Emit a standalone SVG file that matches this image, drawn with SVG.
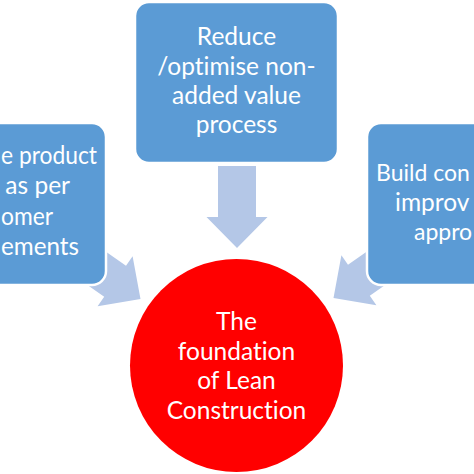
<svg xmlns="http://www.w3.org/2000/svg" width="474" height="474" viewBox="0 0 474 474">
  <style>
    .box { fill: #5B9BD5; stroke: #FFFFFF; stroke-width: 2.5; }
    .arrow { fill: #B4C7E7; }
    .hub { fill: #FF0000; }
    .lbl { font-family: Lato, "Liberation Sans", sans-serif; font-size: 24.5px; fill: #FFFFFF; font-variant-ligatures: none; font-feature-settings: "liga" 0, "dlig" 0, "clig" 0; }
    .edge { font-size: 23px; }
  </style>
  <defs>
    <polygon id="arrowShape" points="-19,-82 19,-82 19,-31 30.5,-31 0,0 -30.5,-31 -19,-31"/>
  </defs>
  <rect width="474" height="474" fill="#FFFFFF"/>
  <g id="connectors">
    <use href="#arrowShape" class="arrow" transform="translate(237,248)"/>
    <use href="#arrowShape" class="arrow" transform="translate(140.5,299) rotate(-55)"/>
    <use href="#arrowShape" class="arrow" transform="translate(333.5,298) rotate(55)"/>
  </g>
  <g id="node-top">
    <rect class="box" x="135" y="2" width="203" height="161" rx="14"/>
    <text class="lbl" text-anchor="middle" x="236.5" y="45">Reduce</text>
    <text class="lbl" text-anchor="middle" x="236.5" y="75">/optimise non-</text>
    <text class="lbl" text-anchor="middle" x="236.5" y="104">added value</text>
    <text class="lbl" text-anchor="middle" x="236.5" y="133">process</text>
  </g>
  <g id="node-left">
    <rect class="box" x="-97" y="123" width="203" height="162" rx="14"/>
    <text class="lbl" x="1" y="164" textLength="96" lengthAdjust="spacingAndGlyphs">e product</text>
    <text class="lbl" text-anchor="end" x="70" y="194">as per</text>
    <text class="lbl" x="1" y="225" textLength="52" lengthAdjust="spacingAndGlyphs">omer</text>
    <text class="lbl" x="1" y="255" textLength="78" lengthAdjust="spacingAndGlyphs">ements</text>
  </g>
  <g id="node-right">
    <rect class="box" x="367" y="123" width="203" height="162" rx="14"/>
    <text class="lbl edge" x="376" y="181">Build con</text>
    <text class="lbl" x="395" y="211">improv</text>
    <text class="lbl edge" x="414" y="240">appro</text>
  </g>
  <g id="node-center">
    <circle class="hub" cx="236.5" cy="365.5" r="106.5"/>
    <text class="lbl" text-anchor="middle" x="236.5" y="330">The</text>
    <text class="lbl" text-anchor="middle" x="236.5" y="359.5">foundation</text>
    <text class="lbl" text-anchor="middle" x="236.5" y="389">of Lean</text>
    <text class="lbl" text-anchor="middle" x="236.5" y="418.5">Construction</text>
  </g>
</svg>
